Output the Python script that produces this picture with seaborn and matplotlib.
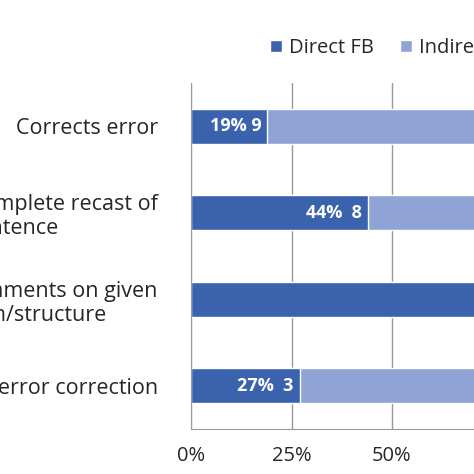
import matplotlib
matplotlib.use("Agg")
import matplotlib.pyplot as plt
import seaborn as sns
import pandas as pd

categories = ["Corrects error", "Complete recast of\nsentence", "Comments on given\nform/structure", "No error correction"]
direct_pct = [19, 44, 100, 27]
direct_cnt = [9, 8, 5, 3]
indirect_pct = [81, 56, 0, 73]

sns.set_style("white")
plt.rcParams['font.family'] = ['Open Sans', 'DejaVu Sans']

c_dir = "#3A62AD"
c_ind = "#8FA3D6"

fig = plt.figure(figsize=(4.74, 4.74), dpi=100)
ax = fig.add_axes([191/474, 1-429/474, 402/474, 346/474])

df = pd.DataFrame({"cat": categories, "d": direct_pct,
                   "t": [a + b for a, b in zip(direct_pct, indirect_pct)]})
sns.barplot(data=df, y="cat", x="t", color=c_ind, width=0.4, ax=ax, saturation=1, label="Indirect FB")
sns.barplot(data=df, y="cat", x="d", color=c_dir, width=0.4, ax=ax, saturation=1, label="Direct FB")

for i, (p, n) in enumerate(zip(direct_pct, direct_cnt)):
    txt = f"{p}% {n}" if p < 25 else f"{p}%  {n}"
    ax.text(p - 1.5, i, txt, ha="right", va="center", color="white",
            fontsize=13, fontweight="bold")

ax.set_xlim(0, 100)
ax.set_ylim(3.5, -0.5)
ax.set_xticks([0, 25, 50, 75, 100])
ax.set_xticklabels(["0%", "25%", "50%", "75%", "100%"], fontsize=14.5)
ax.set_xlabel("")
ax.set_ylabel("")
ax.tick_params(axis="y", labelsize=15.5, length=0, pad=24)
for t in ax.get_yticklabels():
    t.set_multialignment("left")
ax.set_yticks([0.5, 1.5, 2.5, 3.5], minor=True)
ax.tick_params(axis="y", which="minor", length=6, color="#999999", direction="out")
ax.tick_params(axis="x", length=0, pad=12)
ax.grid(axis="x", color="#999999", linewidth=1)
ax.set_axisbelow(True)
for s in ["top", "right"]:
    ax.spines[s].set_visible(False)
for s in ["left", "bottom"]:
    ax.spines[s].set_color("#999999")
ax.legend().remove()

h, l = ax.get_legend_handles_labels()
order = [l.index("Direct FB"), l.index("Indirect FB")]
fig.legend([h[i] for i in order], [l[i] for i in order], loc="upper left",
           bbox_to_anchor=(252/474, 1-20/474), ncol=2, frameon=False, fontsize=14.5,
           handlelength=0.6, handleheight=0.6, handletextpad=0.35, columnspacing=1.3)

fig.savefig("out.png", dpi=100)
